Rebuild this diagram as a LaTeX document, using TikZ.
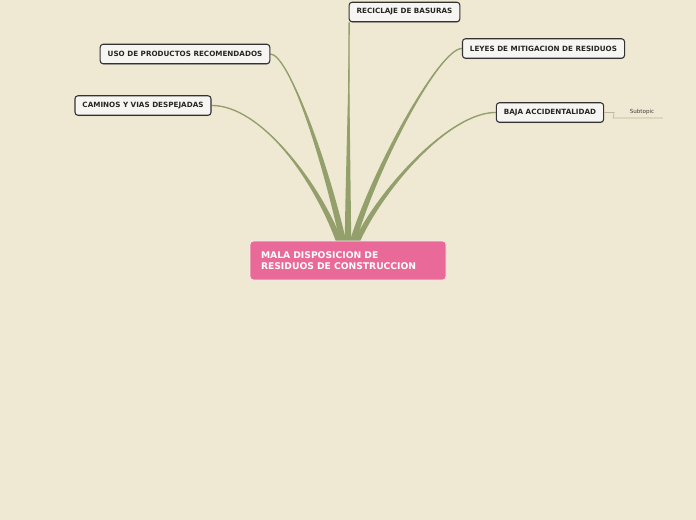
\documentclass[tikz,border=0pt]{standalone}
\usepackage{fontspec}
\setmainfont{DejaVu Sans}
\usepackage{tikz}
\usetikzlibrary{calc}
\usetikzlibrary{shadows}
\usetikzlibrary{backgrounds}
\tikzset{>=latex}

\definecolor{paper}{HTML}{EFE8D2}
\definecolor{rosa}{HTML}{E96A98}
\definecolor{verde}{HTML}{93A06B}
\definecolor{caja}{HTML}{F6F5F1}
\definecolor{tenue}{HTML}{BDB79C}

% tapered branch: tip, control near tip, control near base, base
\newcommand{\rama}[4]{%
  \fill[verde] ($(#4)+(-3.2,0)$) .. controls ($(#3)+(-2.6,0)$) and ($(#2)+(0,-0.8)$) .. (#1)
    .. controls ($(#2)+(0,0.8)$) and ($(#3)+(2.6,0)$) .. ($(#4)+(3.2,0)$) -- cycle;
  \draw[verde, line width=1pt] (#1) .. controls (#2) and (#3) .. (#4);}

\begin{document}
\begin{tikzpicture}[x=0.75pt,y=-0.75pt,
  topic/.style={draw=black!80,fill=caja,line width=0.8pt,rounded corners=2.2pt,
    minimum height=14.6pt,inner xsep=5.6pt,inner ysep=0pt,
    font=\fontsize{5.4}{6.5}\selectfont\bfseries,text=black!85,
    drop shadow={shadow xshift=0.2pt,shadow yshift=-0.7pt,opacity=0.35}},
  central/.style={draw=white!85!rosa,fill=rosa,line width=0.6pt,rounded corners=2.5pt,
    minimum height=29.2pt,text width=130.5pt,inner xsep=8.25pt,align=left,
    font=\fontsize{6.9}{8.25}\selectfont\bfseries,text=white}]

  \useasboundingbox (0,0) rectangle (696,520);

  % nodes
  \node[central] (mid) at (348,260.5) {MALA DISPOSICION DE\\RESIDUOS DE CONSTRUCCION};
  \node[topic] (reci) at (404.5,12) {RECICLAJE DE BASURAS};
  \node[topic] (uso) at (185,54) {USO DE PRODUCTOS RECOMENDADOS};
  \node[topic] (leyes) at (543.5,48.5) {LEYES DE MITIGACION DE RESIDUOS};
  \node[topic] (cami) at (143,105.5) {CAMINOS Y VIAS DESPEJADAS};
  \node[topic] (baja) at (550,112.5) {BAJA ACCIDENTALIDAD};
  \node[font=\fontsize{4.2}{5}\selectfont,text=black!75] (sub) at (642,112) {Subtopic};

  % branch ends
  \coordinate (bCami) at (339,241);
  \coordinate (bUso) at (343,241);
  \coordinate (bReci) at (348,241);
  \coordinate (bLeyes) at (353,241);
  \coordinate (bBaja) at (357,241);
  \coordinate (tReci) at ($(reci.south west)+(0.5,0)$);

  \begin{scope}[on background layer]
  \fill[paper] (0,0) rectangle (696,520);
  \rama{cami.east}{260,105}{316,180}{bCami}
  \rama{uso.east}{287,54}{321,145}{bUso}
  \rama{tReci}{349,80}{348,180}{bReci}
  \rama{leyes.west}{440,48}{376,165}{bLeyes}
  \rama{baja.west}{450,112}{382,188}{bBaja}
  \end{scope}

  % subtopic
  \coordinate (k1) at ($(baja.east)+(10,0)$);
  \coordinate (k2) at ($(sub.west)+(-12,6)$);
  \coordinate (k3) at ($(sub.east)+(4,6)$);
  \draw[tenue,line width=0.5pt] (baja.east) -- (k1) -- (k2) -- (k3);
\end{tikzpicture}
\end{document}
